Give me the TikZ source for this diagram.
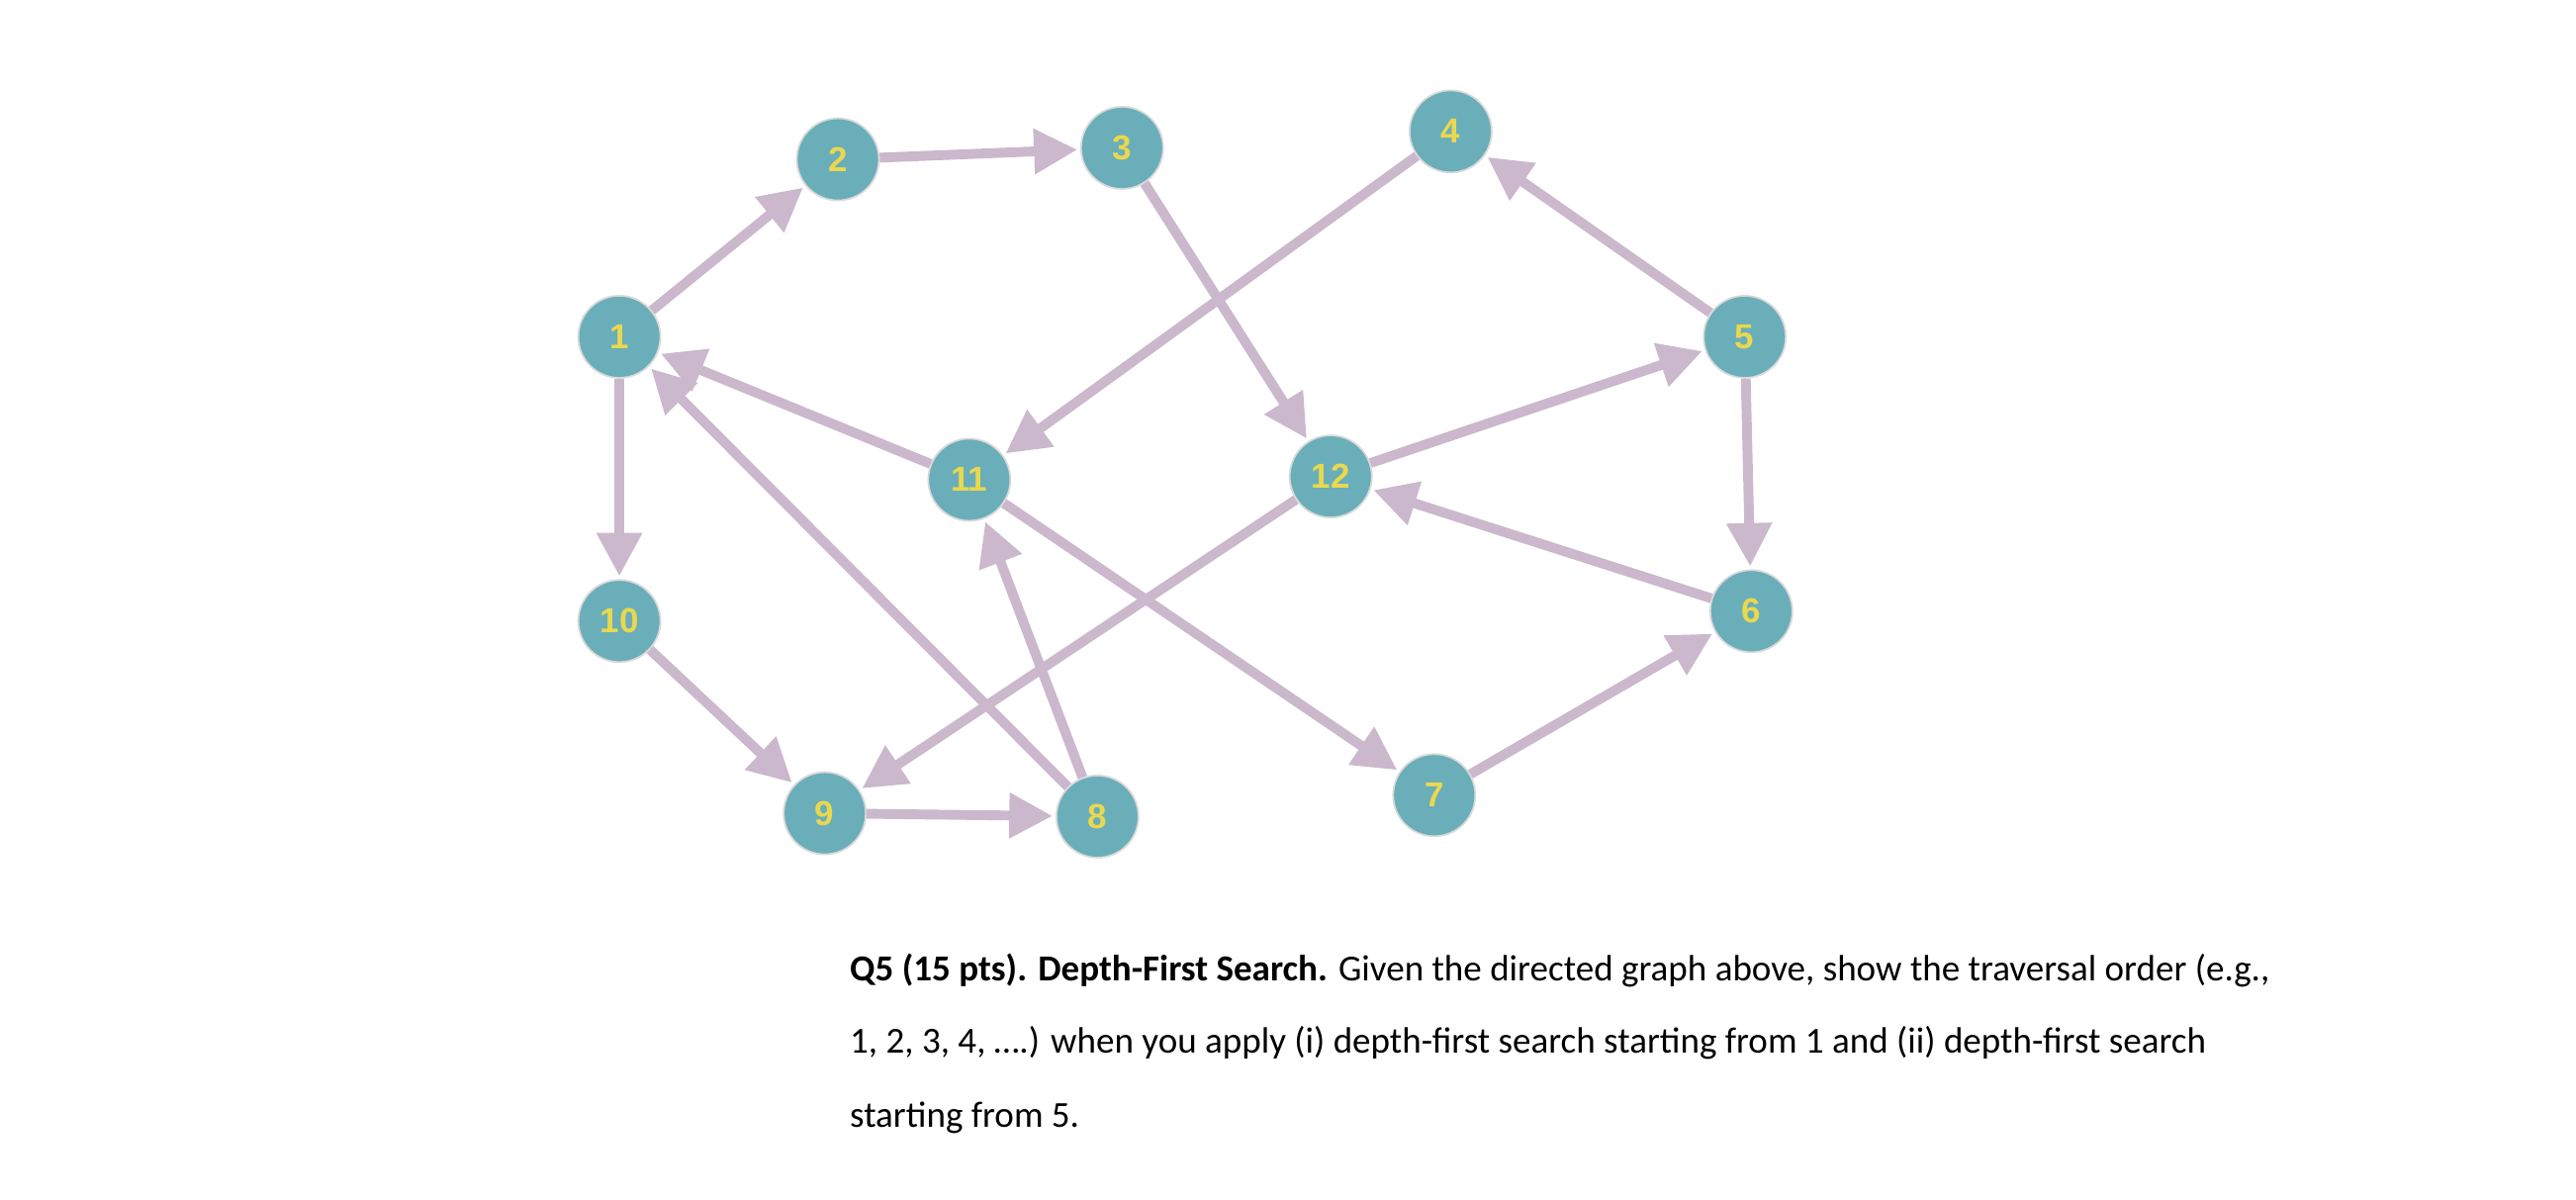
\documentclass[tikz,border=0pt]{standalone}
\usepackage{fontspec}
\setmainfont{Carlito}
\newfontfamily\numfont{Liberation Sans}
\usetikzlibrary{arrows.meta}
\definecolor{nodeteal}{HTML}{6AAEB9}
\definecolor{numyellow}{HTML}{EAD84E}
\definecolor{edgecol}{HTML}{CBB8CC}
\begin{document}
\begin{tikzpicture}[x=0.02cm,y=-0.02cm,
  vert/.style={circle,fill=nodeteal,draw=gray!30,line width=0.6pt,minimum size=1.0cm,inner sep=0pt,text=numyellow,font=\numfont\bfseries\fontsize{12}{12}\selectfont},
  edge/.style={draw=edgecol,line width=3.4pt,-{Triangle[length=15pt,width=15pt]},shorten >=1pt},
  qtext/.style={anchor=base west,inner sep=0pt,font=\fontsize{12.7}{15}\selectfont}]
\useasboundingbox (0,0) rectangle (1568,730);
\node[vert] (n1) at (377,205) {1};
\node[vert] (n2) at (510,97) {2};
\node[vert] (n3) at (683,90) {3};
\node[vert] (n4) at (883,80) {4};
\node[vert] (n5) at (1062,205) {5};
\node[vert] (n6) at (1066,372) {6};
\node[vert] (n7) at (873,484) {7};
\node[vert] (n8) at (668,497) {8};
\node[vert] (n9) at (502,495) {9};
\node[vert] (n10) at (377,378) {10};
\node[vert] (n11) at (590,292) {11};
\node[vert] (n12) at (810,290) {12};
\foreach \a/\b in {n1/n2,n2/n3,n3/n12,n4/n11,n5/n4,n5/n6,n12/n5,n6/n12,n7/n6,n11/n7,n11/n1,n8/n1,n8/n11,n12/n9,n9/n8,n1/n10,n10/n9}
  \draw[edge] (\a) -- (\b);
\node[qtext] (l1) at (517,597) {\textbf{Q5 (15 pts). Depth-First Search.} Given the directed graph above, show the traversal order (e.g.,};
\node[qtext] (l2) at (517,641) {1, 2, 3, 4, ….) when you apply (i) depth-first search starting from 1 and (ii) depth-first search};
\node[qtext] (l3) at (517,686) {starting from 5.};
\end{tikzpicture}
\end{document}
